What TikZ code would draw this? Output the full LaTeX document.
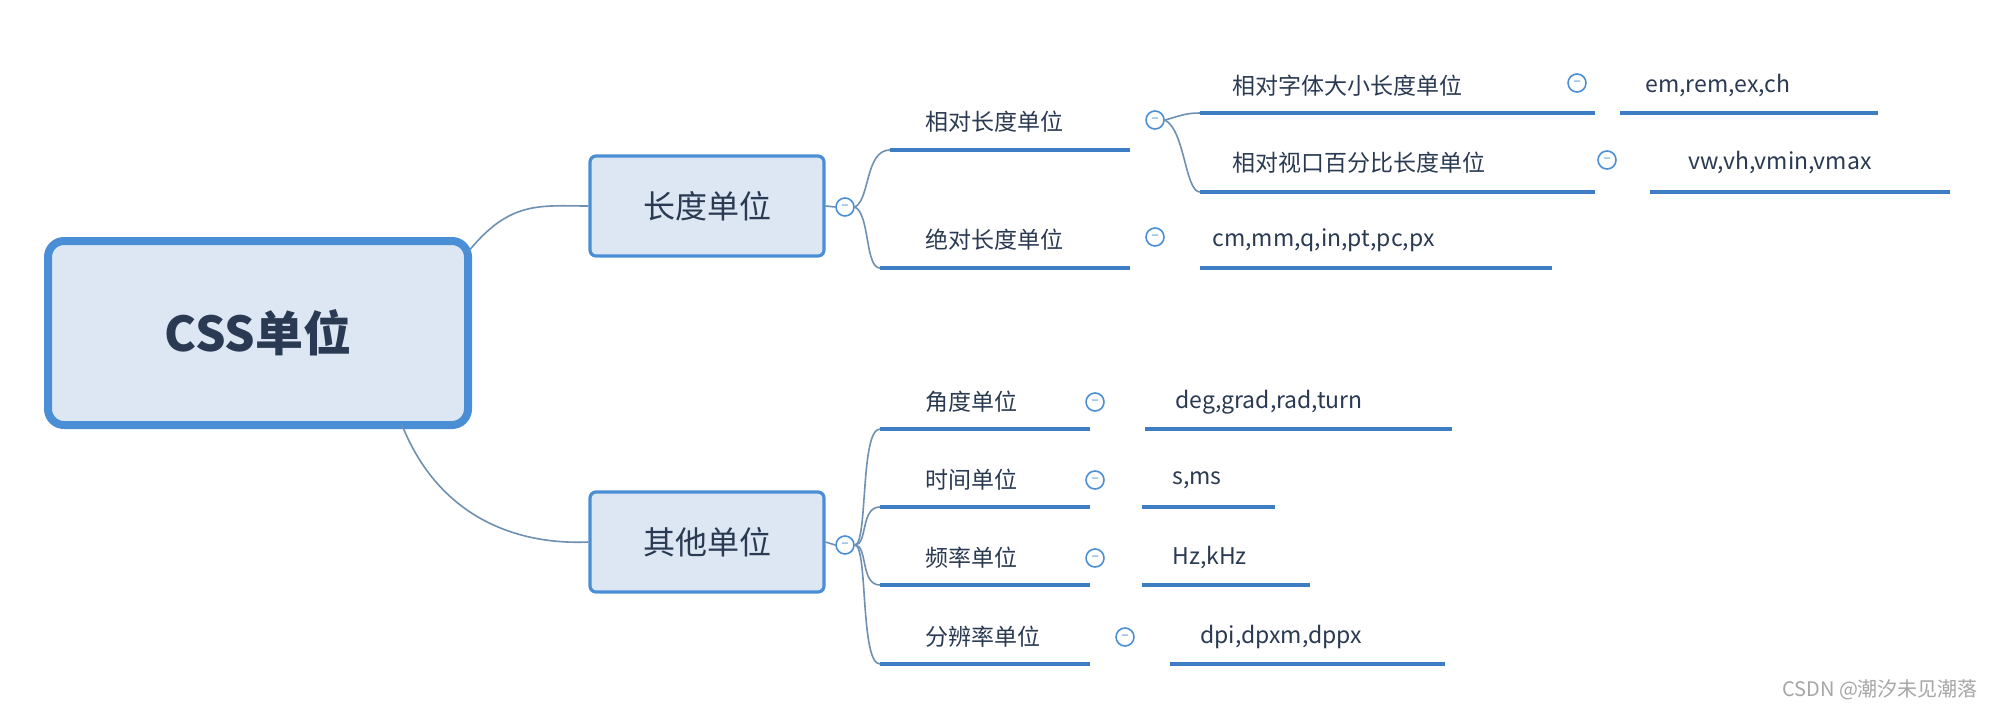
\documentclass[tikz,border=0pt]{standalone}
\usepackage{fontspec}
\setmainfont{Noto Sans CJK SC}
\definecolor{boxfill}{HTML}{DCE7F3}
\definecolor{boxline}{HTML}{4A8FD6}
\definecolor{uline}{HTML}{3C7DC4}
\definecolor{conn}{HTML}{6E90B2}
\definecolor{txt}{HTML}{2A3A52}
\begin{document}
\begin{tikzpicture}[x=0.5pt,y=-0.5pt,
  rootbox/.style={draw=boxline,line width=4pt,fill=boxfill,rounded corners=8pt,minimum width=210pt,minimum height=92pt,font=\fontsize{24}{28}\selectfont\bfseries,text=txt},
  midbox/.style={draw=boxline,line width=1.6pt,fill=boxfill,rounded corners=3pt,minimum width=117pt,minimum height=50pt,font=\fontsize{16}{20}\selectfont,text=txt},
  lbl/.style={font=\fontsize{11.5}{13}\selectfont,text=txt,anchor=west,inner sep=0},
  ul/.style={draw=uline,line width=2pt},
  cn/.style={draw=conn,line width=0.8pt},
  knob/.style={circle,draw=boxline,line width=0.8pt,fill=white,minimum size=9pt,inner sep=0,font=\fontsize{7}{7}\selectfont,text=boxline}]
\useasboundingbox (0,0) rectangle (2000,712);
\fill[white] (0,0) rectangle (2000,712);
\node[rootbox] (root) at (258,333) {CSS单位};
\node[midbox] (len) at (707,206) {长度单位};
\node[midbox] (oth) at (707,542) {其他单位};
\coordinate (r1) at (468,252);
\coordinate (r2) at (402,425);
\draw[cn] (r1) .. controls (510,200) and (540,206) .. (len.west);
\draw[cn] (r2) .. controls (440,520) and (520,545) .. (oth.west);
\node[knob] (k1) at (845,207) {--};
\node[knob] (k2) at (845,545) {--};
\draw[cn] (len.east) -- (k1.west);
\draw[cn] (oth.east) -- (k2.west);
% branch 1
\node[lbl] (a1) at (925,122) {相对长度单位};
\node[lbl] (a2) at (925,240) {绝对长度单位};
\coordinate (a1s) at (890,150); \coordinate (a1e) at (1130,150);
\coordinate (a2s) at (880,268); \coordinate (a2e) at (1130,268);
\draw[ul] (a1s)--(a1e); \draw[ul] (a2s)--(a2e);
\draw[cn] (k1.east) .. controls (870,200) and (865,150) .. (a1s);
\draw[cn] (k1.east) .. controls (870,214) and (865,268) .. (a2s);
\node[knob] (k3) at (1155,120) {--};
\node[knob] (k4) at (1155,237) {--};
\node[lbl] (b1) at (1232,86) {相对字体大小长度单位};
\node[lbl] (b2) at (1232,163) {相对视口百分比长度单位};
\coordinate (b1s) at (1200,113); \coordinate (b1e) at (1595,113);
\coordinate (b2s) at (1200,192); \coordinate (b2e) at (1595,192);
\draw[ul] (b1s)--(b1e); \draw[ul] (b2s)--(b2e);
\draw[cn] (k3.east) .. controls (1180,116) and (1185,113) .. (b1s);
\draw[cn] (k3.east) .. controls (1185,130) and (1185,192) .. (b2s);
\node[knob] (k5) at (1577,83) {--};
\node[knob] (k6) at (1607,160) {--};
\node[lbl] (c1) at (1645,86) {em,rem,ex,ch};
\node[lbl] (c2) at (1688,163) {vw,vh,vmin,vmax};
\coordinate (c1s) at (1620,113); \coordinate (c1e) at (1878,113);
\coordinate (c2s) at (1650,192); \coordinate (c2e) at (1950,192);
\draw[ul] (c1s)--(c1e); \draw[ul] (c2s)--(c2e);
\node[lbl] (c3) at (1212,240) {cm,mm,q,in,pt,pc,px};
\coordinate (c3s) at (1200,268); \coordinate (c3e) at (1552,268);
\draw[ul] (c3s)--(c3e);
% branch 2
\foreach \n/\t/\y/\kx/\v/\vx/\ve in {d1/角度单位/402/1095/deg{,}grad{,}rad{,}turn/1175/1452, d2/时间单位/480/1095/s{,}ms/1172/1275, d3/频率单位/558/1095/Hz{,}kHz/1172/1310, d4/分辨率单位/637/1125/dpi{,}dpxm{,}dppx/1200/1445}{
  \node[lbl] (\n) at (925,\y) {\t};
  \coordinate (\n s) at (880,\y+27); \coordinate (\n e) at (1090,\y+27);
  \draw[ul] (\n s)--(\n e);
  \draw[cn] (k2.east) .. controls (868,545) and (860,\y+27) .. (\n s);
  \node[knob] (\n k) at (\kx,\y) {--};
  \node[lbl] (\n v) at (\vx,\y) {\v};
  \coordinate (\n vs) at (\vx-30,\y+27); \coordinate (\n ve) at (\ve,\y+27);
  \draw[ul] (\n vs)--(\n ve);
}
\node[font=\fontsize{10}{12}\selectfont,text=gray!70,anchor=east] (wm) at (1985,690) {CSDN @潮汐未见潮落};
\end{tikzpicture}
\end{document}
